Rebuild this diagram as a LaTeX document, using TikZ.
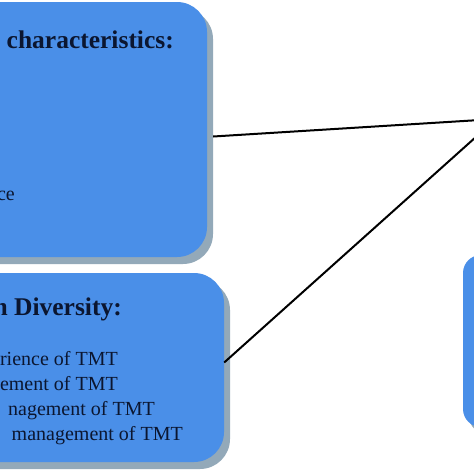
\documentclass[tikz,border=0pt]{standalone}
\usepackage{fontspec}
\setmainfont{Liberation Serif}
\usetikzlibrary{calc,shadows}
\definecolor{boxblue}{HTML}{4A8FE8}
\definecolor{shadowgray}{HTML}{93A9B9}
\definecolor{inktext}{HTML}{0B1630}
\begin{document}
\begin{tikzpicture}[x=1pt,y=-1pt,
  panel/.style={rectangle, rounded corners=30pt, fill=boxblue, draw=none, inner sep=0pt,
    drop shadow={shadow xshift=6pt, shadow yshift=-7pt, fill=shadowgray, opacity=1}},
  headtext/.style={anchor=base east, inner sep=0pt, text=inktext, font=\fontsize{25.5}{30}\selectfont\bfseries},
  bodytext/.style={anchor=base east, inner sep=0pt, text=inktext, font=\fontsize{20}{25}\selectfont},
  link/.style={draw=black, line width=2pt}
]
\useasboundingbox (0,0) rectangle (474,474);
\clip (0,0) rectangle (474,474);
\fill[white] (0,0) rectangle (474,474);

\node[panel, minimum width=357pt, minimum height=255pt] (box1) at (28.5,129.5) {};
\node[panel, minimum width=374pt, minimum height=189pt] (box2) at (37,367.5) {};
\node[panel, rounded corners=18pt, minimum width=237pt, minimum height=172pt] (box3) at (581.5,341) {};
\coordinate (hub) at (496,119);

\node[headtext] (t1) at (174,48) {characteristics:};
\node[bodytext] (t2) at (15,200) {ce};
\node[headtext] (t3) at (122,315) {n Diversity:};
\node[bodytext] (t4) at (118,365) {rience of TMT};
\node[bodytext] (t5) at (118,390) {ement of TMT};
\node[bodytext] (t6) at (155,415) {nagement of TMT};
\node[bodytext] (t7) at (183,440) {management of TMT};

\draw[link] ($(box1.east)+(6,7)$) -- (hub);
\draw[link] ($(box2.east)+(0,-5)$) -- (hub);
\end{tikzpicture}
\end{document}
